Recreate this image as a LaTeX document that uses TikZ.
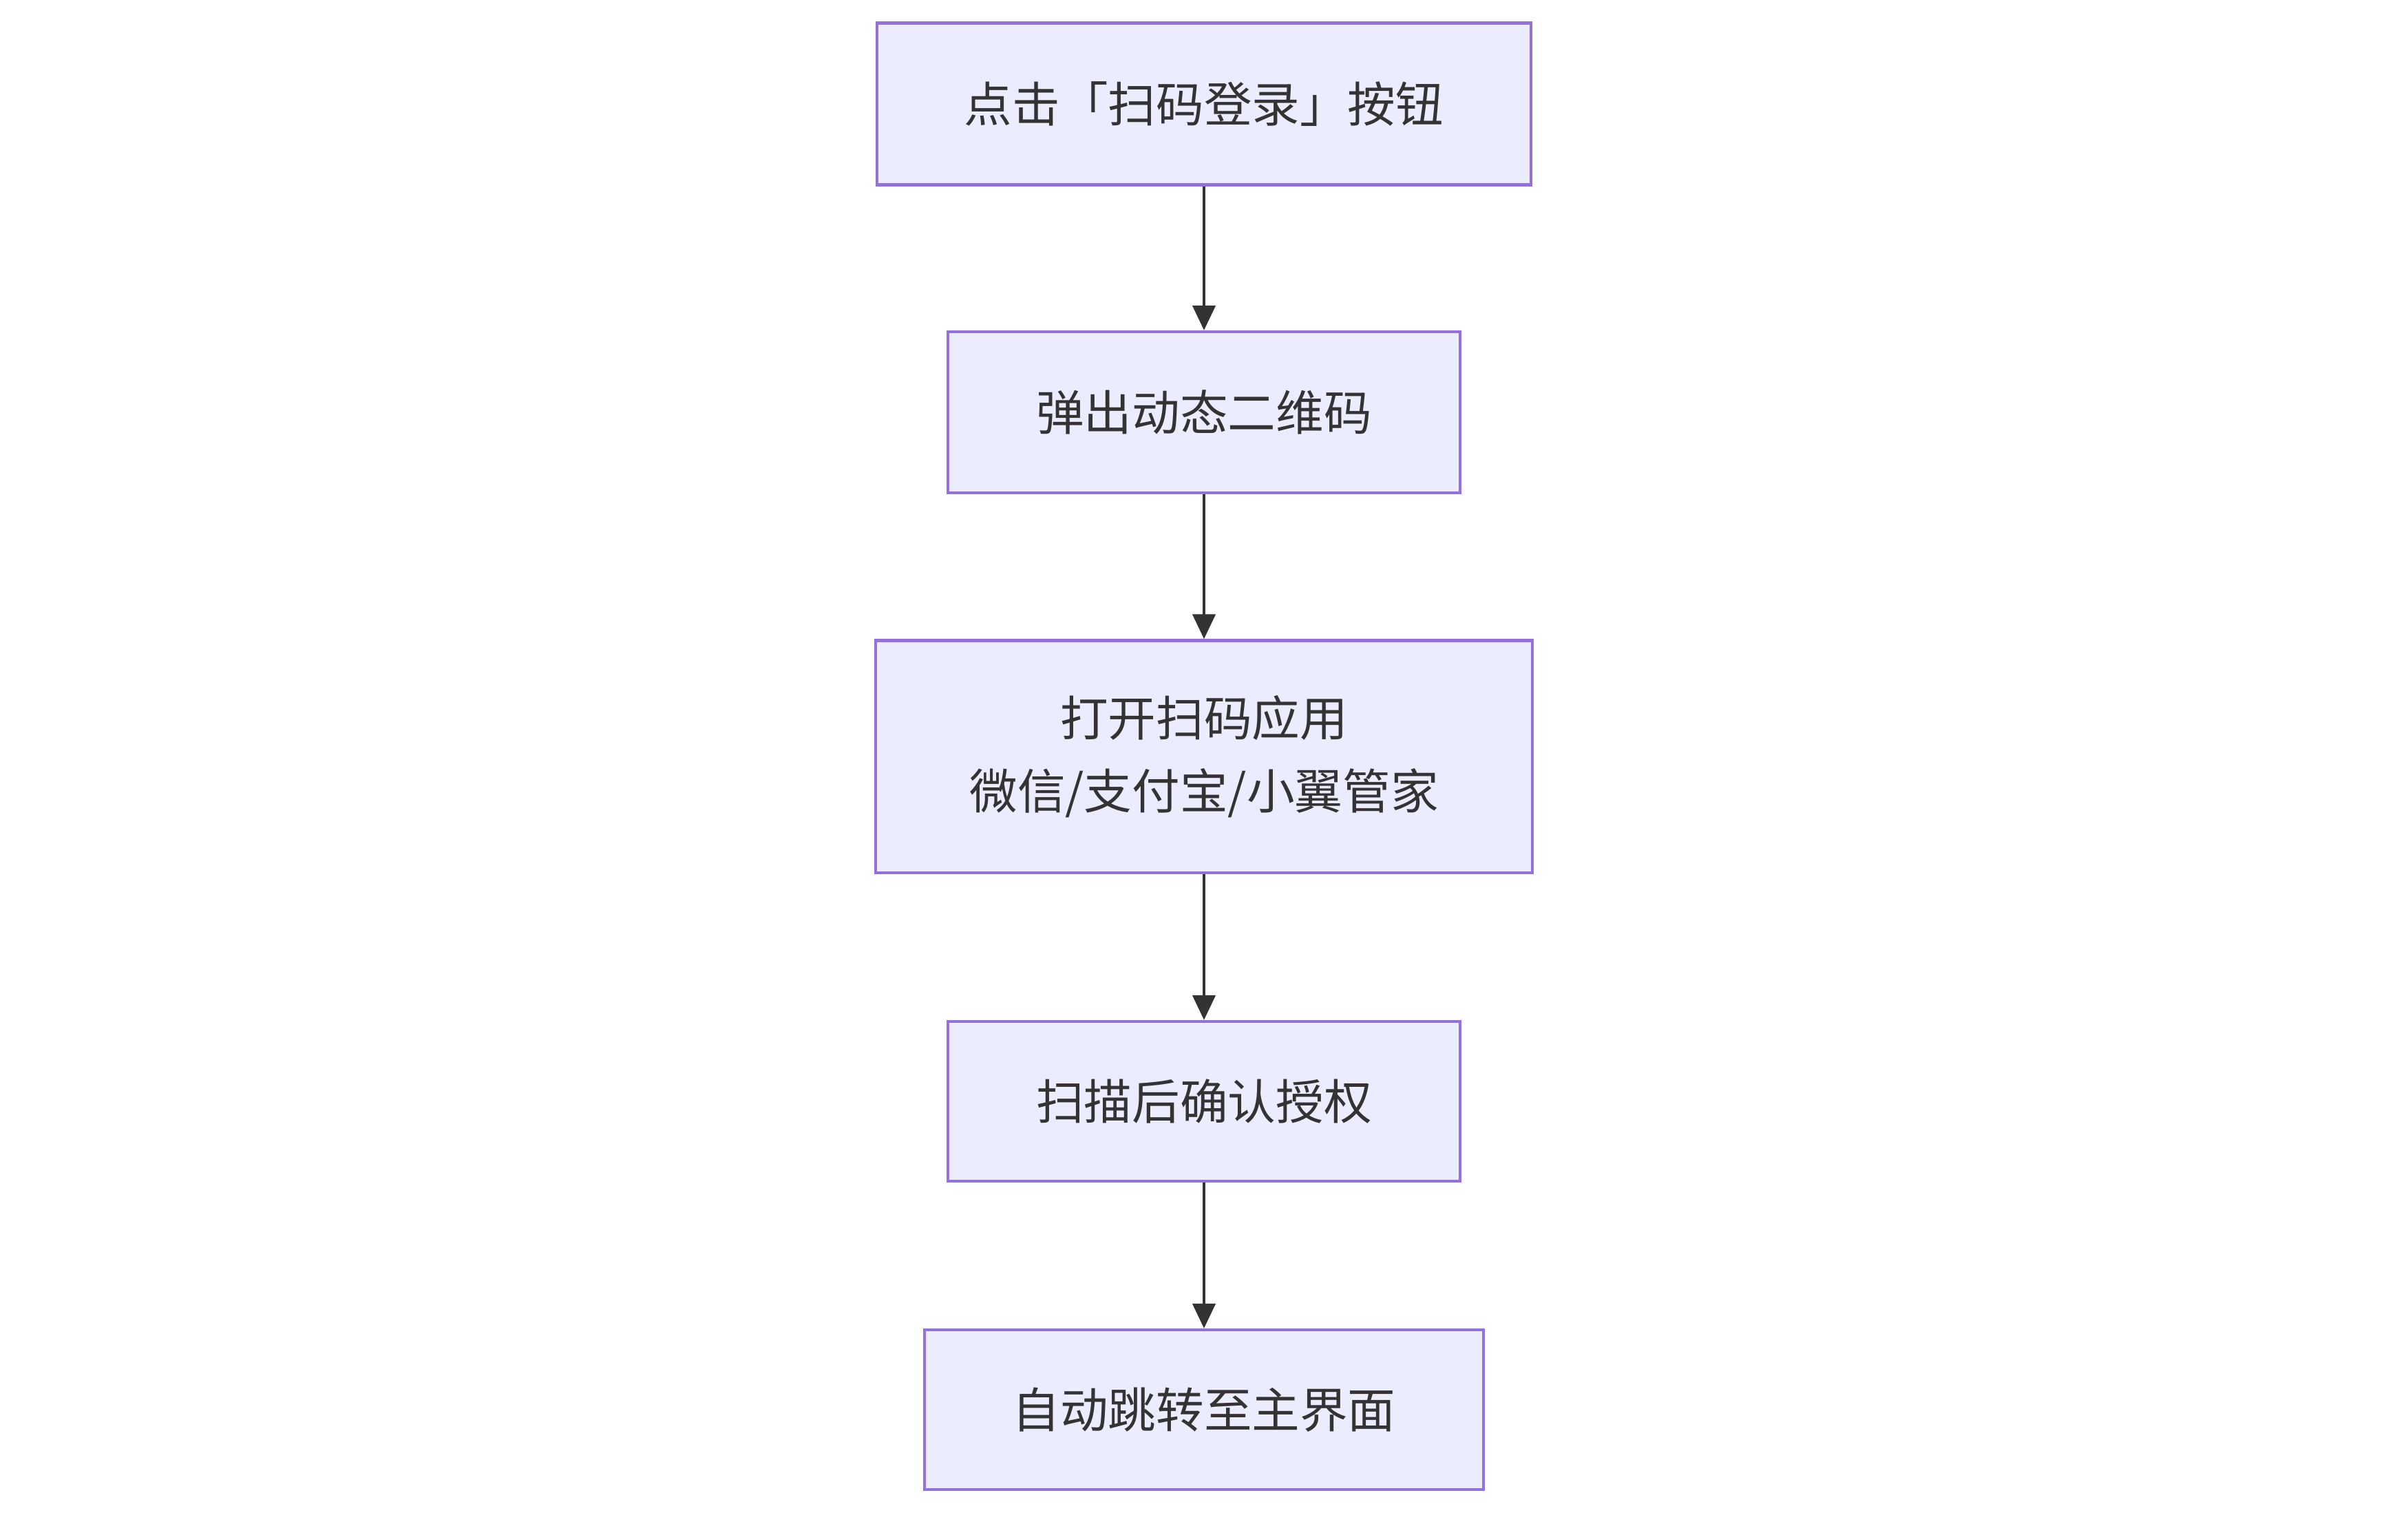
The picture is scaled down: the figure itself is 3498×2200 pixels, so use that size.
\documentclass[tikz,border=0pt]{standalone}
\usepackage{fontspec}
\setmainfont{Noto Sans CJK SC}
\usetikzlibrary{arrows.meta}
\definecolor{boxfill}{HTML}{ECECFF}
\definecolor{boxline}{HTML}{9370DB}
\definecolor{ink}{HTML}{333333}
\begin{document}
\begin{tikzpicture}[x=0.01cm,y=-0.01cm,
  flowbox/.style={draw=boxline, fill=boxfill, line width=1.2pt, rectangle, inner sep=0pt,
    text=ink, align=center, font=\fontsize{19.8pt}{30pt}\selectfont},
  flowarrow/.style={draw=ink, line width=1.3pt, -{Triangle[length=0.36cm,width=0.33cm]}}]
\useasboundingbox[fill=white] (0,0) rectangle (3498,2200);
\node[flowbox, minimum width=9.5cm, minimum height=2.35cm] (n1) at (1749,151) {点击「扫码登录」按钮};
\node[flowbox, minimum width=7.43cm, minimum height=2.34cm] (n2) at (1749,599) {弹出动态二维码};
\node[flowbox, minimum width=9.54cm, minimum height=3.37cm] (n3) at (1749,1099) {打开扫码应用\\微信/支付宝/小翼管家};
\node[flowbox, minimum width=7.43cm, minimum height=2.32cm] (n4) at (1749,1600) {扫描后确认授权};
\node[flowbox, minimum width=8.12cm, minimum height=2.32cm] (n5) at (1749,2048) {自动跳转至主界面};
\draw[flowarrow] (n1.south) -- (n2.north);
\draw[flowarrow] (n2.south) -- (n3.north);
\draw[flowarrow] (n3.south) -- (n4.north);
\draw[flowarrow] (n4.south) -- (n5.north);
\end{tikzpicture}
\end{document}
